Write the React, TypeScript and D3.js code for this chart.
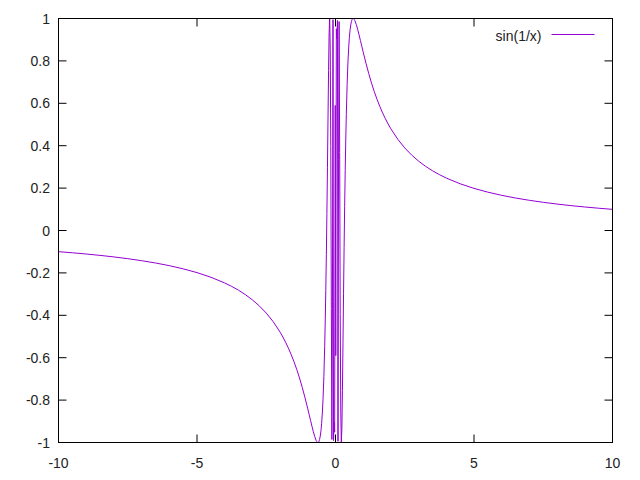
import React from "react";
import * as d3 from "d3";

// Sampled points of the plotted curve sin(1/x), read as values (left to right)
const xValues = [
  -10, -9.5, -9, -8.5, -8, -7.5, -7, -6.5, -6, -5.5, -5, -4.5, -4, -3.75, -3.5, -3.25, -3, -2.75, -2.5, -2.25,
  -2, -1.9, -1.8, -1.7, -1.6, -1.5, -1.4, -1.3, -1.2, -1.1, -1, -0.95, -0.9, -0.85, -0.8, -0.75, -0.7,
  -0.675, -0.65, -0.625, -0.6, -0.575, -0.55, -0.525, -0.5, -0.475, -0.45, -0.42,
  -0.39039, -0.37037, -0.35035, -0.33033, -0.31031, -0.29029, -0.27027, -0.25025, -0.23023, -0.21021,
  -0.19019, -0.17017, -0.15015, -0.13013, -0.11011, -0.09009, -0.07007, -0.05005, -0.03003, -0.01001,
  0.01001, 0.03003, 0.05005, 0.07007, 0.09009, 0.11011, 0.13013, 0.15015, 0.17017, 0.19019,
  0.21021, 0.23023, 0.25025, 0.27027, 0.29029, 0.31031, 0.33033, 0.35035, 0.37037, 0.39039,
  0.42, 0.45, 0.475, 0.5, 0.525, 0.55, 0.575, 0.6, 0.625, 0.65, 0.675,
  0.7, 0.75, 0.8, 0.85, 0.9, 0.95, 1, 1.1, 1.2, 1.3, 1.4, 1.5, 1.6, 1.7, 1.8, 1.9, 2,
  2.25, 2.5, 2.75, 3, 3.25, 3.5, 3.75, 4, 4.5, 5, 5.5, 6, 6.5, 7, 7.5, 8, 8.5, 9, 9.5, 10,
];
const yValues = [
  -0.0998, -0.1051, -0.1109, -0.1174, -0.1247, -0.1329, -0.1424, -0.1532, -0.1659, -0.1808, -0.1987, -0.2204, -0.2474, -0.2635, -0.2818, -0.3029, -0.3272, -0.3557, -0.3894, -0.43,
  -0.4794, -0.5024, -0.5274, -0.5549, -0.5851, -0.6184, -0.6551, -0.6956, -0.7402, -0.789, -0.8415, -0.8688, -0.8961, -0.9232, -0.949, -0.9719, -0.9899,
  -0.996, -0.9995, -0.9996, -0.9954, -0.9859, -0.9696, -0.9448, -0.9093, -0.8608, -0.7954, -0.6894,
  -0.5481, -0.4274, -0.2834, -0.1141, 0.0809, 0.2986, 0.5298, 0.7542, 0.9328, 0.999,
  0.855, 0.3956, -0.368, -0.9857, -0.3363, 0.9946, -0.991, -0.9046, -0.9513, 0.59,
  -0.59, 0.9513, 0.9046, 0.991, -0.9946, 0.3363, 0.9857, 0.368, -0.3956, -0.855,
  -0.999, -0.9328, -0.7542, -0.5298, -0.2986, -0.0809, 0.1141, 0.2834, 0.4274, 0.5481,
  0.6894, 0.7954, 0.8608, 0.9093, 0.9448, 0.9696, 0.9859, 0.9954, 0.9996, 0.9995, 0.996,
  0.9899, 0.9719, 0.949, 0.9232, 0.8961, 0.8688, 0.8415, 0.789, 0.7402, 0.6956, 0.6551, 0.6184, 0.5851, 0.5549, 0.5274, 0.5024, 0.4794,
  0.43, 0.3894, 0.3557, 0.3272, 0.3029, 0.2818, 0.2635, 0.2474, 0.2204, 0.1987, 0.1808, 0.1659, 0.1532, 0.1424, 0.1329, 0.1247, 0.1174, 0.1109, 0.1051, 0.0998,
];
const xTicks = [-10, -5, 0, 5, 10];
const yTicks = [-1, -0.8, -0.6, -0.4, -0.2, 0, 0.2, 0.4, 0.6, 0.8, 1];
const seriesName = "sin(1/x)";

const W = 640;
const H = 480;
const L = 58.5;
const R = 612.5;
const T = 18.5;
const B = 442.5;
const COLOR = "#9400d3";
const FONT = "'Liberation Sans', Arial, sans-serif";
const FS = 14;
const TICK = 8;

export default function App() {
  const x = d3.scaleLinear().domain([-10, 10]).range([L, R]);
  const y = d3.scaleLinear().domain([-1, 1]).range([B, T]);
  const pts: [number, number][] = xValues.map((v, i) => [v, yValues[i]]);
  const line = d3
    .line<[number, number]>()
    .x((d) => x(d[0]))
    .y((d) => y(d[1]));

  return (
    <svg
      width={W}
      height={H}
      style={{ position: "absolute", left: 0, top: 0, background: "#fff" }}
      fontFamily={FONT}
      fontSize={FS}
    >
      <rect x={0} y={0} width={W} height={H} fill="#fff" />
      {yTicks.map((t) => (
        <g key={"y" + t}>
          <line x1={L} x2={L + TICK} y1={y(t)} y2={y(t)} stroke="#000" />
          <line x1={R} x2={R - TICK} y1={y(t)} y2={y(t)} stroke="#000" />
          <text x={50} y={y(t) + 5} textAnchor="end" fill="#222">
            {String(t)}
          </text>
        </g>
      ))}
      {xTicks.map((t) => (
        <g key={"x" + t}>
          <line x1={x(t)} x2={x(t)} y1={B} y2={B - TICK} stroke="#000" />
          <line x1={x(t)} x2={x(t)} y1={T} y2={T + TICK} stroke="#000" />
          <text x={x(t)} y={467.5} textAnchor="middle" fill="#222">
            {String(t)}
          </text>
        </g>
      ))}
      <path d={line(pts) || ""} fill="none" stroke={COLOR} strokeWidth={1} strokeLinejoin="round" />
      <rect x={L} y={T} width={R - L} height={B - T} fill="none" stroke="#000" />
      <text x={541.5} y={41} textAnchor="end" fill="#222">
        {seriesName}
      </text>
      <line x1={551.5} x2={594.5} y1={34.5} y2={34.5} stroke={COLOR} strokeWidth={1} />
    </svg>
  );
}
